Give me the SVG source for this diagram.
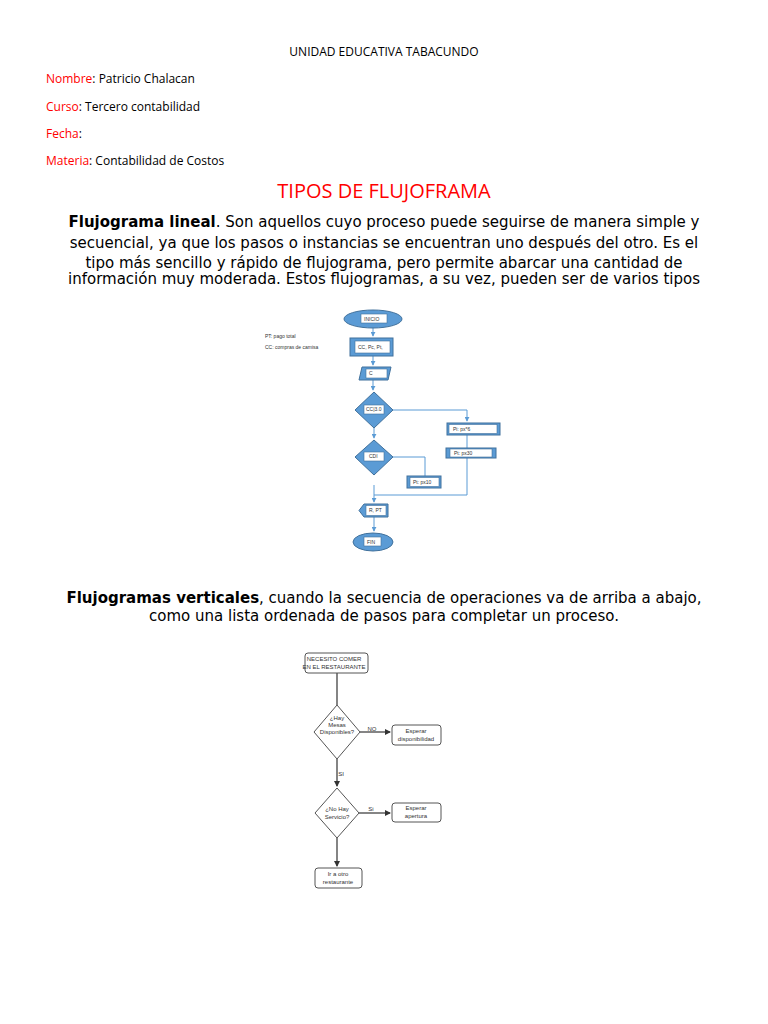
<svg xmlns="http://www.w3.org/2000/svg" width="768" height="1024" viewBox="0 0 768 1024">
<defs>
<style>
.h{font-family:"Open Sans","Liberation Sans",sans-serif;font-size:12px;fill:#000}
.r{fill:#ff0000}
.p{font-family:"DejaVu Sans",sans-serif;font-size:15px;fill:#000;text-anchor:middle}
.b{fill:#5b9bd5;stroke:#41719c;stroke-width:1}
.w{fill:#fff;stroke:#41719c;stroke-width:0.6}
.t{font-family:"Liberation Sans",sans-serif;font-size:5px;fill:#333}
.c{fill:none;stroke:#5b9bd5;stroke-width:1}
.k{fill:none;stroke:#333;stroke-width:1.2}
.n{fill:#fff;stroke:#555;stroke-width:1}
.s{font-family:"Liberation Sans",sans-serif;font-size:6px;fill:#333;text-anchor:middle}
</style>
<marker id="ab" viewBox="0 0 6 6" refX="5" refY="3" markerWidth="5" markerHeight="5" orient="auto"><path d="M0,0L6,3L0,6z" fill="#5b9bd5"/></marker>
<marker id="ak" viewBox="0 0 6 6" refX="5" refY="3" markerWidth="5" markerHeight="5" orient="auto"><path d="M0,0L6,3L0,6z" fill="#333"/></marker>
</defs>
<rect width="768" height="1024" fill="#fff"/>
<text class="h" x="384" y="56" text-anchor="middle">UNIDAD EDUCATIVA TABACUNDO</text>
<text class="h" x="46" y="83"><tspan class="r">Nombre</tspan>: Patricio Chalacan</text>
<text class="h" x="46" y="111"><tspan class="r">Curso</tspan>: Tercero contabilidad</text>
<text class="h" x="46" y="138"><tspan class="r">Fecha</tspan>:</text>
<text class="h" x="46" y="165"><tspan class="r">Materia</tspan>: Contabilidad de Costos</text>
<text x="384" y="198" text-anchor="middle" font-family="'Open Sans','Liberation Sans',sans-serif" font-size="20" fill="#ff0000">TIPOS DE FLUJOFRAMA</text>
<text class="p" x="384" y="227"><tspan font-weight="bold">Flujograma lineal</tspan>. Son aquellos cuyo proceso puede seguirse de manera simple y</text>
<text class="p" x="384" y="248">secuencial, ya que los pasos o instancias se encuentran uno después del otro. Es el</text>
<text class="p" x="384" y="268">tipo más sencillo y rápido de flujograma, pero permite abarcar una cantidad de</text>
<text class="p" x="384" y="284">información muy moderada. Estos flujogramas, a su vez, pueden ser de varios tipos</text>
<text class="p" x="384" y="603"><tspan font-weight="bold">Flujogramas verticales</tspan>, cuando la secuencia de operaciones va de arriba a abajo,</text>
<text class="p" x="384" y="621">como una lista ordenada de pasos para completar un proceso.</text>

<g id="connectors1">
<path class="c" d="M373,328V336" marker-end="url(#ab)"/>
<path class="c" d="M373,356V365" marker-end="url(#ab)"/>
<path class="c" d="M373,380V390" marker-end="url(#ab)"/>
<path class="c" d="M374,428V438" marker-end="url(#ab)"/>
<path class="c" d="M393,410H467V421" marker-end="url(#ab)"/>
<path class="c" d="M467,435V448"/>
<path class="c" d="M467,458V495H374"/>
<path class="c" d="M393,457H425V462"/>
<path class="c" d="M425,462V476"/>
<path class="c" d="M374,485V502" marker-end="url(#ab)"/>
<path class="c" d="M374,517V531" marker-end="url(#ab)"/>
</g>
<text class="t" x="265" y="338">PT: pago total</text>
<text class="t" x="265" y="349">CC: compras de camisa</text>
<g id="inicio"><ellipse class="b" cx="373" cy="319" rx="29" ry="9"/><rect class="w" x="361" y="314" width="26" height="9"/><text class="t" x="364" y="320.5">INICIO</text></g>
<g id="datos"><rect class="b" x="350" y="338" width="43" height="18"/><rect class="w" x="355" y="341" width="35" height="12"/><text class="t" x="358" y="348.5">CC, Pc, Pt,</text></g>
<g id="entrada"><path class="b" d="M362,367H391L388,380H359z"/><rect class="w" x="366" y="369" width="21" height="9"/><text class="t" x="369" y="375">C</text></g>
<g id="dec1"><path class="b" d="M374,392L393,410L374,428L355,410z"/><rect class="w" x="364" y="405" width="20" height="9"/><text class="t" x="366" y="411">CC|3.0</text></g>
<g id="pi"><rect class="b" x="447" y="423" width="53" height="12"/><rect class="w" x="449" y="424.5" width="48" height="9"/><text class="t" x="453" y="431">Pi: px*6</text></g>
<g id="pt30"><rect class="b" x="446" y="448" width="50" height="10"/><rect class="w" x="450" y="449" width="42" height="8"/><text class="t" x="454" y="455">Pt: px30</text></g>
<g id="dec2"><path class="b" d="M374,440L393,457L374,475L355,457z"/><rect class="w" x="364" y="452" width="20" height="9"/><text class="t" x="369" y="458">CDI</text></g>
<g id="pt10"><rect class="b" x="407" y="476" width="34" height="12"/><rect class="w" x="410" y="477.5" width="29" height="9"/><text class="t" x="413" y="484">Pt: px10</text></g>
<g id="salida"><path class="b" d="M364,504H388V517H364L359,510.5z"/><rect class="w" x="366" y="505.5" width="20" height="10"/><text class="t" x="369" y="512">R, PT</text></g>
<g id="fin"><ellipse class="b" cx="373" cy="542" rx="20" ry="9"/><rect class="w" x="364" y="537" width="17" height="9"/><text class="t" x="367" y="543.5">FIN</text></g>

<g id="connectors2">
<path class="k" d="M337,673V705"/>
<path class="k" d="M360,732H390" marker-end="url(#ak)"/>
<path class="k" d="M337,759V786" marker-end="url(#ak)"/>
<path class="k" d="M359,813H390" marker-end="url(#ak)"/>
<path class="k" d="M337,838V866" marker-end="url(#ak)"/>
</g>
<text class="s" x="372" y="731">NO</text>
<text class="s" x="341" y="776">SI</text>
<text class="s" x="371" y="811">Si</text>
<g id="necesito"><rect class="n" x="305" y="653" width="63" height="20" rx="3"/><text class="s" x="334" y="661">NECESITO  COMER</text><text class="s" x="334" y="669">EN EL RESTAURANTE</text></g>
<g id="mesas"><path class="n" d="M337,705L360,732L337,759L314,732z"/><text class="s" x="337" y="720">¿Hay</text><text class="s" x="337" y="727">Mesas</text><text class="s" x="337" y="734">Disponibles?</text></g>
<g id="esperar1"><rect class="n" x="392" y="725" width="49" height="20" rx="3"/><text class="s" x="416" y="733">Esperar</text><text class="s" x="416" y="741">disponibilidad</text></g>
<g id="servicio"><path class="n" d="M337,788L359,813L337,838L315,813z"/><text class="s" x="337" y="811">¿No Hay</text><text class="s" x="337" y="819">Servicio?</text></g>
<g id="esperar2"><rect class="n" x="392" y="803" width="49" height="19" rx="3"/><text class="s" x="416" y="810">Esperar</text><text class="s" x="416" y="818">apertura</text></g>
<g id="otro"><rect class="n" x="315" y="868" width="47" height="20" rx="3"/><text class="s" x="338" y="876">Ir a otro</text><text class="s" x="338" y="884">restaurante</text></g>
</svg>
